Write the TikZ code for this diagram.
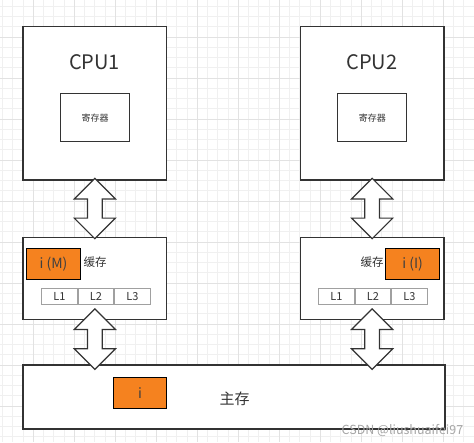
\documentclass[tikz,border=0pt]{standalone}
\usepackage{fontspec}
\setmainfont{Noto Sans CJK SC}
\usetikzlibrary{positioning,calc}
\definecolor{linegray}{HTML}{333333}
\definecolor{cellgray}{HTML}{A0A0A0}
\definecolor{varorange}{HTML}{F5821F}
\definecolor{gridminor}{HTML}{F0F0F0}
\definecolor{gridmajor}{HTML}{E2E2E2}
\newcommand{\fsz}[1]{\fontsize{#1}{#1}\selectfont}
% double bus arrow: from, to, overlap into upper box, overlap into lower box
\newcommand{\busarrow}[4]{%
  \coordinate (t) at ($(#1.south)+(0,-#3)$);
  \coordinate (b) at ($(#1.south |- #2.north)+(0,#4)$);
  \draw[bus] (t) -- ($(t)+(20.6,20.6)$) -- ($(t)+(7.4,20.6)$) -- ($(b)+(7.4,-20.6)$)
    -- ($(b)+(20.6,-20.6)$) -- (b) -- ($(b)+(-20.6,-20.6)$) -- ($(b)+(-7.4,-20.6)$)
    -- ($(t)+(-7.4,20.6)$) -- ($(t)+(-20.6,20.6)$) -- cycle;}
\begin{document}
\begin{tikzpicture}[x=1pt,y=-1pt,line join=miter,
  box/.style={draw=linegray,line width=1.2pt,fill=white,inner sep=0pt},
  regbox/.style={box,minimum width=69pt,minimum height=48pt},
  cellbox/.style={draw=cellgray,line width=0.9pt,fill=white,inner sep=0pt,
    minimum width=35.6pt,minimum height=15.3pt,text=linegray,font=\fsz{11}},
  varbox/.style={draw=black,line width=1.4pt,fill=varorange,inner sep=0pt,
    minimum width=54pt,minimum height=31pt,text=black!75,font=\fsz{14}},
  label/.style={text=linegray,inner sep=0pt},
  bus/.style={draw=linegray,line width=1.2pt,fill=white}]
\useasboundingbox (0,0) rectangle (474,442);
\fill[white] (0,0) rectangle (474,442);
% grid
\foreach \i in {0,...,45} \draw[gridminor,line width=0.8pt] ({2.55+10.25*\i},0) -- ({2.55+10.25*\i},442);
\foreach \j in {0,...,42} \draw[gridminor,line width=0.8pt] (0,{6.25+10.25*\j}) -- (474,{6.25+10.25*\j});
\foreach \i in {3,7,...,43} \draw[gridmajor,line width=0.8pt] ({2.55+10.25*\i},0) -- ({2.55+10.25*\i},442);
\foreach \j in {3,7,...,39} \draw[gridmajor,line width=0.8pt] (0,{6.25+10.25*\j}) -- (474,{6.25+10.25*\j});
% CPUs
\node[box,minimum width=143.7pt,minimum height=153.7pt] (cpu1) at (94.85,103.15) {};
\node[box,minimum width=143.7pt,minimum height=153.7pt] (cpu2) at (372.15,103.15) {};
\node[label,font=\fsz{20}] (cpu1name) at (94.5,61.7) {CPU1};
\node[label,font=\fsz{20}] (cpu2name) at (372,61.7) {CPU2};
\node[regbox] (reg1) at (95.2,117.7) {\color{linegray}\fsz{9}寄存器};
\node[regbox] (reg2) at (372.35,117.7) {\color{linegray}\fsz{9}寄存器};
% caches
\node[box,minimum width=143.7pt,minimum height=81.6pt] (cache1) at (94.85,278.5) {};
\node[box,minimum width=143.7pt,minimum height=81.6pt] (cache2) at (372.15,278.5) {};
\node[varbox] (im) at (53.5,264) {i (M)};
\node[varbox] (ii) at (412.7,263.8) {i (I)};
\node[label,font=\fsz{11.5}] (cache1name) at (95,262.3) {缓存};
\node[label,font=\fsz{11.5}] (cache2name) at (372,262.3) {缓存};
\node[cellbox] (l11) at (59.5,296.35) {L1};
\node[cellbox,right=0pt of l11] (l12) {L2};
\node[cellbox,right=0pt of l12] (l13) {L3};
\node[cellbox] (l21) at (336.5,296.35) {L1};
\node[cellbox,right=0pt of l21] (l22) {L2};
\node[cellbox,right=0pt of l22] (l23) {L3};
% main memory
\node[box,minimum width=422pt,minimum height=64pt] (mem) at (234,397) {};
\node[varbox,minimum width=53.4pt] (mi) at (140,392.8) {i};
\node[label,font=\fsz{15}] (memname) at (234.7,398.3) {主存};
% buses
\busarrow{cpu1}{cache1}{2.3}{1.6}
\busarrow{cpu2}{cache2}{2.3}{1.6}
\busarrow{cache1}{mem}{11}{5}
\busarrow{cache2}{mem}{11}{5}
\node[text=black!35,inner sep=0pt,font=\fsz{12.5}] (mark) at (402.5,431) {CSDN @liushuaifei97};
\end{tikzpicture}
\end{document}
